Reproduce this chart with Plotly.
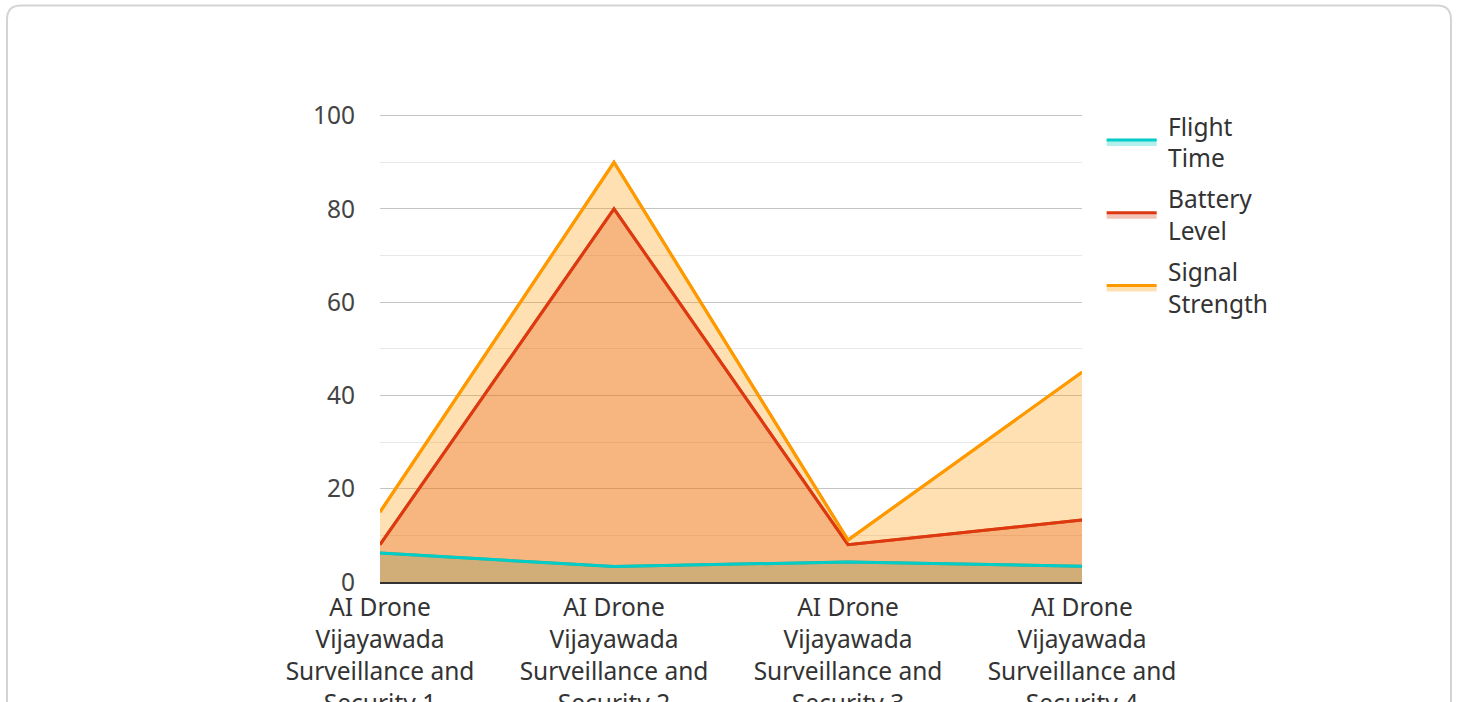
import plotly.graph_objects as go

categories = [
    "AI Drone Vijayawada Surveillance and Security 1",
    "AI Drone Vijayawada Surveillance and Security 2",
    "AI Drone Vijayawada Surveillance and Security 3",
    "AI Drone Vijayawada Surveillance and Security 4",
]
tick_labels = [
    "AI Drone<br>Vijayawada<br>Surveillance and<br>Security 1",
    "AI Drone<br>Vijayawada<br>Surveillance and<br>Security 2",
    "AI Drone<br>Vijayawada<br>Surveillance and<br>Security 3",
    "AI Drone<br>Vijayawada<br>Surveillance and<br>Security 4",
]
legend_names = ["\u00a0Flight<br>\u00a0Time", "\u00a0Battery<br>\u00a0Level", "\u00a0Signal<br>\u00a0Strength"]
flight_time = [6.2, 3.3, 4.3, 3.4]
battery_level = [8, 80, 8, 13.3]
signal_strength = [15, 90, 9, 45]

series = [
    (legend_names[0], flight_time, "rgb(0,204,200)", "rgba(0,204,200,0.3)"),
    (legend_names[1], battery_level, "rgb(220,57,18)", "rgba(220,57,18,0.3)"),
    (legend_names[2], signal_strength, "rgb(255,153,0)", "rgba(255,153,0,0.3)"),
]

FONT = "Noto Sans, Open Sans, sans-serif"
FS = 24.5
W, H = 1458, 702
YMAX = 101.0
L, R, B = 380, 1082, 582
T = B - (B - 116) / 100.0 * YMAX  # so that y=100 sits at pixel 116

fig = go.Figure()
for i, (name, vals, lc, fc) in enumerate(series):
    fig.add_trace(go.Scatter(
        x=categories, y=vals, name=name, mode="lines", legendgroup=f"g{i}",
        line=dict(color=lc, width=3), fill="tozeroy", fillcolor=fc,
    ))
for i, (name, vals, lc, fc) in enumerate(series):
    fig.add_trace(go.Scatter(
        x=categories, y=vals, name=name, mode="lines", legendgroup=f"g{i}",
        line=dict(color=lc, width=3), showlegend=False, hoverinfo="skip",
    ))

def P(x, y):
    px = (x - L) / (R - L)
    py = (B - y) / (B - T)
    return f"{px:.5f},{py:.5f}"

# rounded card border
x0, x1, y0, y1, rad = 7, 1451, 6, 740, 14
path = (
    f"M {P(x0, y1)} L {P(x0, y0 + rad)} Q {P(x0, y0)} {P(x0 + rad, y0)} "
    f"L {P(x1 - rad, y0)} Q {P(x1, y0)} {P(x1, y0 + rad)} L {P(x1, y1)}"
)
fig.add_shape(type="path", path=path, xref="paper", yref="paper",
              line=dict(color="#d4d4d4", width=2), layer="below")

legend_top_px = 104
fig.update_layout(
    width=W, height=H,
    margin=dict(l=L, r=W - R, t=T, b=H - B, pad=0, autoexpand=False),
    paper_bgcolor="white", plot_bgcolor="white",
    font=dict(family=FONT, size=FS, color="#444"),
    showlegend=True,
    legend=dict(x=1.028, y=(B - legend_top_px) / (B - T), xanchor="left", yanchor="top",
                font=dict(family=FONT, size=FS, color="#333"),
                itemwidth=50, tracegroupgap=6, traceorder="grouped"),
    xaxis=dict(
        type="category", range=[0, 3], tickmode="array",
        tickvals=categories, ticktext=tick_labels, automargin=False,
        showgrid=False, showline=True, linecolor="#333", linewidth=2,
        ticks="", tickfont=dict(size=FS, color="#333"), fixedrange=True,
        ticklabelstandoff=3,
    ),
    yaxis=dict(
        range=[0, YMAX], tickvals=[0, 20, 40, 60, 80, 100], automargin=False,
        showgrid=True, gridcolor="#c4c4c4", gridwidth=1,
        zeroline=False, ticks="", tickfont=dict(size=FS, color="#444"),
        ticklabelstandoff=24, fixedrange=True,
        minor=dict(tickvals=[10, 30, 50, 70, 90], showgrid=True,
                   gridcolor="#e8e8e8", gridwidth=1),
    ),
)

fig.write_html("out.html", config={"displayModeBar": False},
               post_script="document.body.style.margin='0';document.body.style.overflow='hidden';")
